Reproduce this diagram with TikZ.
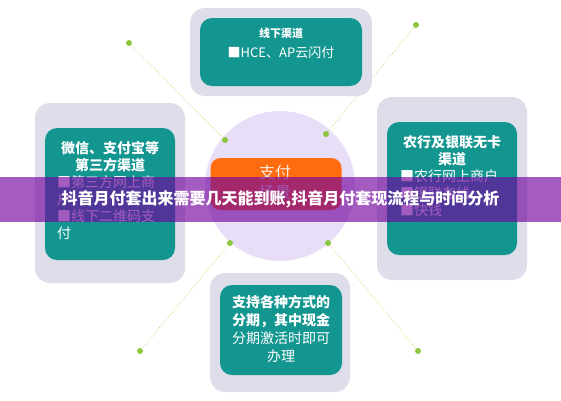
\documentclass[tikz,border=0pt]{standalone}
\usepackage{fontspec}
\setmainfont{Noto Sans CJK SC}
\usetikzlibrary{positioning}
\definecolor{panelgray}{RGB}{221,222,234}
\definecolor{tealfill}{RGB}{20,150,144}
\definecolor{hubfill}{RGB}{233,222,247}
\definecolor{orangefill}{RGB}{255,108,16}
\definecolor{linkline}{RGB}{200,216,96}
\definecolor{dotgreen}{RGB}{141,198,63}
\definecolor{bannerfill}{RGB}{115,4,158}

\begin{document}
\begin{tikzpicture}[x=1pt,y=-1pt,
  panel/.style={fill=panelgray, rounded corners=15pt, inner sep=0pt},
  card/.style={fill=tealfill, rounded corners=12pt, inner sep=0pt},
  boxtext/.style={text=white, font=\fontsize{14}{17}\selectfont, inner sep=0pt, align=center},
  items/.style={text=white, font=\fontsize{14}{17}\selectfont, inner sep=0pt, align=left, text width=106pt},
  link/.style={linkline, dotted, line width=0.8pt},
  dot/.style={circle, fill=dotgreen, inner sep=0pt, minimum size=6pt}]
  \useasboundingbox (0,0) rectangle (561,400);

  % hub
  \node[circle, fill=hubfill, minimum size=150pt, inner sep=0pt] (hub) at (280,186) {};

  % dotted spokes
  \node[dot] (tl-in) at (225,140) {};
  \node[dot] (tl-out) at (129,43) {};
  \node[dot] (tr-in) at (326,134) {};
  \node[dot] (tr-out) at (416,25) {};
  \node[dot] (bl-in) at (230,243) {};
  \node[dot] (bl-out) at (140,351) {};
  \node[dot] (br-in) at (328,243) {};
  \node[dot] (br-out) at (418,351) {};
  \draw[link] (tl-in) -- (tl-out);
  \draw[link] (tr-in) -- (tr-out);
  \draw[link] (bl-in) -- (bl-out);
  \draw[link] (br-in) -- (br-out);

  % centre
  \node[fill=orangefill, rounded corners=10pt, minimum width=131pt, minimum height=52pt] (pay) at (276,184) {};
  \node[text=white!85!orangefill, font=\fontsize{16}{20}\selectfont, align=center, inner sep=0pt] (pay-text) at (275,182) {支付\\场景};

  % top
  \node[panel, minimum width=182pt, minimum height=88pt] (offline-bg) at (281,52) {};
  \node[card, minimum width=162pt, minimum height=68pt] (offline) at (281,52) {};
  \node[boxtext, font=\bfseries\fontsize{11}{13}\selectfont] (offline-title) at (281,33) {线下渠道};
  \node[boxtext, font=\fontsize{13}{16}\selectfont] (offline-items) at (281,53) {■HCE、AP云闪付};

  % left
  \node[panel, minimum width=150pt, minimum height=180pt] (wechat-bg) at (110,193) {};
  \node[card, minimum width=130pt, minimum height=132pt] (wechat) at (110,194) {};
  \node[boxtext, font=\bfseries\fontsize{14}{17}\selectfont] (wechat-title) at (110,156.5) {微信、支付宝等\\第三方渠道};
  \node[items, anchor=west] (wechat-items) at (57,207.5) {■第三方网上商\\户\\■线下二维码支\\付};

  % right
  \node[panel, minimum width=150pt, minimum height=183pt] (abc-bg) at (452,188.5) {};
  \node[card, minimum width=130pt, minimum height=133pt] (abc) at (452,188.5) {};
  \node[boxtext, font=\bfseries\fontsize{14}{17}\selectfont] (abc-title) at (452,150.5) {农行及银联无卡\\渠道};
  \node[items, anchor=west] (abc-items) at (400,193) {■农行网上商户\\■银联在线\\■快钱};

  % bottom
  \node[panel, minimum width=140pt, minimum height=119pt] (credit-bg) at (280,332.5) {};
  \node[card, minimum width=122pt, minimum height=90pt] (credit) at (281,330) {};
  \node[boxtext, font=\fontsize{14}{18}\selectfont] (credit-text) at (281,329)
    {{\bfseries 支持各种方式的}\\{\bfseries 分期，其中现金}\\分期激活时即可\\办理};

  % banner
  \node[fill=bannerfill, fill opacity=0.65, text opacity=1, text=white,
    minimum width=561pt, minimum height=45pt, inner sep=0pt,
    font=\bfseries\fontsize{16}{20}\selectfont] (headline) at (280.5,199.5)
    {抖音月付套出来需要几天能到账,抖音月付套现流程与时间分析};
\end{tikzpicture}
\end{document}
